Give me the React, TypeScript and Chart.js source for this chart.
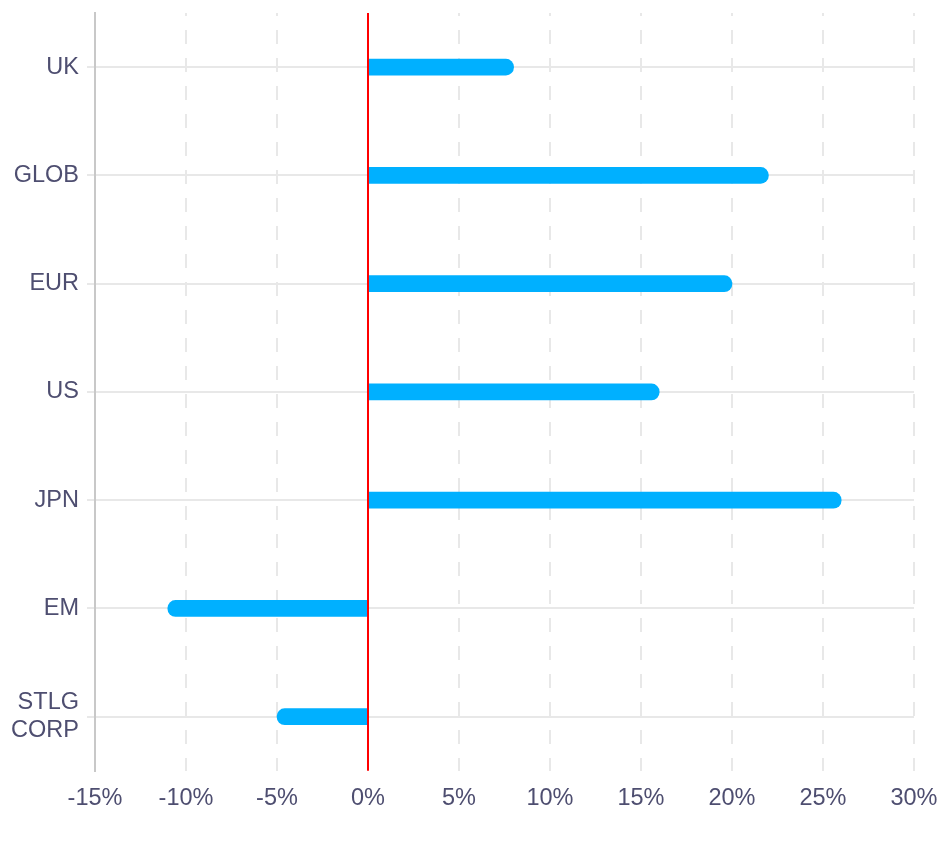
import React, { useEffect, useRef } from "react";
import { Chart, registerables } from "chart.js";

Chart.register(...registerables);

const categories: (string | string[])[] = ["UK", "GLOB", "EUR", "US", "JPN", "EM", ["STLG", "CORP"]];
const values: number[] = [8, 22, 20, 16, 26, -11, -5];
const xMin = -15;
const xMax = 30;
const xStep = 5;

const TEXT = "#4e4e70";
const GRID = "#e8e8e8";
const BAR = "#00b0ff";

const zeroLine = {
  id: "zeroLine",
  afterDatasetsDraw(chart: any) {
    const x = chart.scales.x;
    const { top, bottom } = chart.chartArea;
    const px = x.getPixelForValue(0);
    const ctx = chart.ctx;
    ctx.save();
    ctx.strokeStyle = "#ff0000";
    ctx.lineWidth = 2;
    ctx.beginPath();
    ctx.moveTo(px, top);
    ctx.lineTo(px, bottom);
    ctx.stroke();
    ctx.restore();
  },
};

export default function App() {
  const ref = useRef<HTMLCanvasElement>(null);
  useEffect(() => {
    if (!ref.current) return;
    const chart = new Chart(ref.current, {
      type: "bar",
      data: {
        labels: categories,
        datasets: [
          {
            data: values,
            backgroundColor: BAR,
            barThickness: 16,
            borderRadius: 8,
            borderSkipped: "start",
          },
        ],
      },
      options: {
        indexAxis: "y",
        animation: false,
        responsive: true,
        maintainAspectRatio: false,
        layout: { padding: { top: 5, right: 28, bottom: 21, left: 0 } },
        plugins: { legend: { display: false }, tooltip: { enabled: false } },
        scales: {
          x: {
            min: xMin,
            max: xMax,
            ticks: {
              stepSize: xStep,
              color: TEXT,
              font: { family: "'Liberation Sans', Arial, sans-serif", size: 23.5 },
              padding: 14,
              callback: (v: any) => v + "%",
            },
            grid: {
              color: (ctx: any) => (ctx.tick && ctx.tick.value === 0 ? "rgba(0,0,0,0)" : GRID),
              lineWidth: 2,
              drawTicks: false,
            },
            border: { display: false, dash: [14, 14], dashOffset: 11 },
            afterFit: (scale: any) => {
              scale.paddingLeft = 0;
              scale.paddingRight = 0;
            },
          },
          y: {
            ticks: {
              color: TEXT,
              font: { family: "'Liberation Sans', Arial, sans-serif", size: 23.5, lineHeight: 1.2 },
              padding: 8,
            },
            grid: {
              color: GRID,
              lineWidth: 2,
              tickLength: 8,
              tickColor: GRID,
              offset: false,
            },
            border: { display: true, color: "#c8c8c8", width: 2 },
            afterFit: (scale: any) => {
              scale.width = 87;
              scale.paddingTop = 0;
              scale.paddingBottom = 0;
            },
          },
        },
      },
      plugins: [zeroLine],
    });
    return () => chart.destroy();
  }, []);
  return (
    <div style={{ width: 934, height: 840 }}>
      <canvas ref={ref} />
    </div>
  );
}
